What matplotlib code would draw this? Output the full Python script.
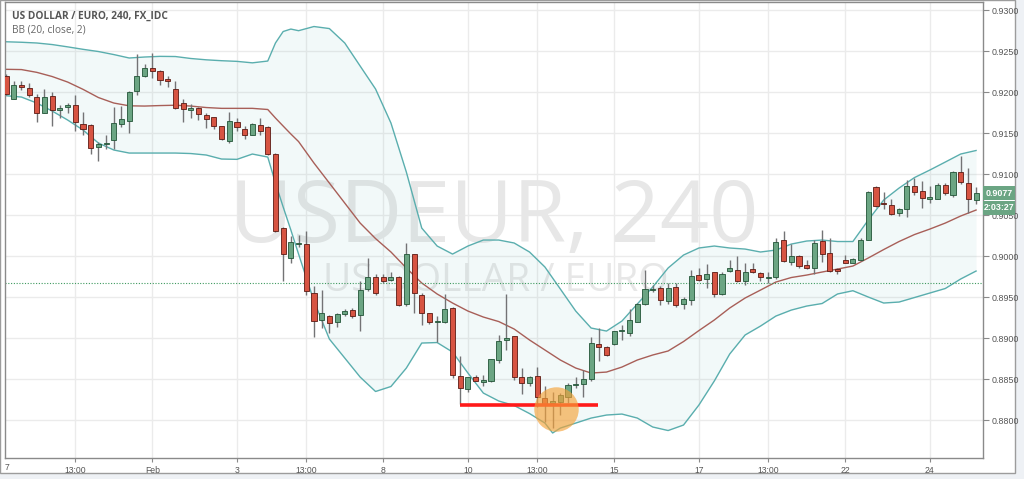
import matplotlib
matplotlib.use("Agg")
import matplotlib.pyplot as plt
from matplotlib.patches import Rectangle

# 4h candles, USD/EUR
opens = [.9219, .9192, .9209, .9205, .9194, .9175, .9195, .9178, .9182, .9184,
         .9161, .9160, .9133, .9137, .9141, .9161, .9165, .9201, .9220, .9229,
         .9226, .9216, .9204, .9187, .9178, .9181, .9172, .9169, .9158, .9140,
         .9164, .9155, .9148, .9160, .9157, .9124, .9034, .8998, .9015, .9015,
         .8955, .8922, .8927, .8919, .8929, .8934, .8928, .8960, .8975, .8974,
         .8971, .8975, .8941, .9002, .8953, .8930, .8920, .8920, .8937, .8854,
         .8838, .8853, .8846, .8847, .8873, .8897, .8902, .8852, .8845, .8854,
         .8827, .8821, .8822, .8828, .8843, .8844, .8850, .8893, .8889, .8893,
         .8908, .8906, .8920, .8942, .8958, .8961, .8945, .8962, .8942, .8946,
         .8977, .8972, .8980, .8954, .8982, .8983, .8970, .8984, .8979, .8973,
         .8974, .9019, .8993, .9000, .8989, .8985, .9018, .9004, .8984, .8995,
         .8992, .8995, .9020, .9084, .9065, .9062, .9052, .9057, .9086, .9079,
         .9070, .9070, .9087, .9075, .9102, .9089, .9068]
highs = [.9222, .9213, .9213, .9211, .9198, .9204, .9200, .9184, .9187, .9196,
         .9176, .9161, .9139, .9148, .9182, .9183, .9201, .9246, .9234, .9248,
         .9227, .9220, .9213, .9192, .9185, .9182, .9175, .9170, .9159, .9176,
         .9168, .9158, .9162, .9168, .9158, .9126, .9035, .9024, .9026, .9030,
         .8963, .8958, .8928, .8930, .8935, .8937, .8969, .8998, .8978, .8978,
         .8981, .8976, .9016, .9003, .8955, .8931, .8927, .8954, .8938, .8878,
         .8853, .8855, .8855, .8875, .8904, .8954, .8903, .8864, .8854, .8865,
         .8841, .8834, .8833, .8845, .8853, .8861, .8901, .8912, .8890, .8909,
         .8916, .8935, .8943, .8983, .8965, .8963, .8967, .8967, .8950, .8983,
         .8985, .8990, .8981, .8981, .8995, .9000, .8991, .8991, .8981, .8981,
         .9022, .9030, .9015, .9001, .8995, .9020, .9032, .9022, .8985, .9001,
         .8998, .9022, .9079, .9085, .9078, .9069, .9058, .9093, .9095, .9092,
         .9085, .9089, .9089, .9104, .9122, .9107, .9084]
lows = [.9196, .9191, .9203, .9194, .9164, .9174, .9158, .9168, .9174, .9152,
        .9148, .9125, .9116, .9131, .9130, .9157, .9150, .9196, .9218, .9217,
        .9209, .9206, .9179, .9163, .9168, .9166, .9156, .9155, .9142, .9138,
        .9152, .9143, .9147, .9147, .9123, .9029, .8970, .8991, .9011, .8952,
        .8901, .8912, .8906, .8913, .8927, .8925, .8908, .8957, .8953, .8967,
        .8969, .8939, .8939, .8930, .8916, .8917, .8895, .8918, .8851, .8819,
        .8834, .8847, .8841, .8846, .8870, .8886, .8849, .8832, .8841, .8816,
        .8798, .8790, .8806, .8821, .8839, .8828, .8848, .8872, .8878, .8892,
        .8898, .8903, .8919, .8940, .8956, .8940, .8942, .8938, .8935, .8940,
        .8969, .8961, .8950, .8952, .8980, .8968, .8965, .8979, .8970, .8967,
        .8972, .8993, .8989, .8985, .8984, .8978, .8993, .8981, .8978, .8991,
        .8991, .8994, .9019, .9060, .9057, .9050, .9049, .9047, .9074, .9059,
        .9065, .9069, .9075, .9072, .9088, .9053, .9063]
closes = [.9198, .9209, .9206, .9196, .9175, .9194, .9178, .9181, .9184, .9163,
          .9155, .9132, .9137, .9138, .9162, .9167, .9200, .9220, .9229, .9226,
          .9215, .9213, .9180, .9179, .9181, .9173, .9167, .9159, .9143, .9165,
          .9157, .9147, .9161, .9153, .9124, .9031, .9002, .9017, .9016, .8957,
          .8921, .8931, .8918, .8929, .8933, .8927, .8958, .8975, .8955, .8970,
          .8975, .8940, .9002, .8955, .8930, .8919, .8921, .8936, .8855, .8839,
          .8852, .8848, .8849, .8874, .8896, .8900, .8852, .8845, .8853, .8828,
          .8820, .8823, .8830, .8843, .8844, .8850, .8894, .8889, .8879, .8908,
          .8910, .8922, .8942, .8960, .8960, .8946, .8961, .8940, .8948, .8976,
          .8971, .8978, .8954, .8978, .8985, .8970, .8981, .8980, .8974, .8975,
          .9017, .8994, .9000, .8988, .8986, .9016, .9002, .8982, .8982, .8992,
          .8996, .9020, .9078, .9061, .9063, .9051, .9057, .9085, .9078, .9071,
          .9072, .9087, .9077, .9102, .9090, .9070, .9077]

# Bollinger bands (20, close, 2)
bb_idx = [0, 2, 4, 6, 8, 10, 12, 14, 16, 18, 20, 22, 24, 26, 28, 30, 32, 34, 35, 36,
          37, 38, 40, 42, 44, 46, 48, 50, 52, 54, 56, 58, 60, 62, 64, 66, 68, 70, 71, 72,
          74, 76, 78, 80, 82, 84, 86, 88, 90, 92, 94, 96, 98, 100, 102, 104, 106, 108, 110, 112,
          114, 116, 118, 120, 122, 124, 126]
bb_upper = [.92613, .92607, .92598, .92579, .92551, .92521, .92494, .92457, .92415, .92427,
            .92435, .92433, .92409, .92393, .92382, .92374, .92356, .92378, .92598, .92738,
            .92768, .92748, .92799, .92774, .92598, .92317, .92037, .91622, .91024, .90341,
            .90122, .90024, .90122, .90195, .90195, .90159, .90049, .89866, .89732, .89598,
            .89329, .89122, .89085, .89207, .89415, .89622, .89854, .90012, .90098, .90122,
            .90098, .90085, .90049, .90073, .90146, .90183, .90195, .90177, .90177, .90439,
            .90683, .90829, .90957, .91049, .91146, .91244, .91287]
bb_mid = [.92277, .92274, .92240, .92189, .92122, .92033, .91933, .91866, .91832, .91829,
          .91835, .91839, .91829, .91811, .91801, .91801, .91801, .91787, .91683, .91585,
          .91488, .91396, .91134, .90890, .90646, .90402, .90213, .90049, .89854, .89671,
          .89537, .89427, .89329, .89256, .89201, .89110, .88976, .88854, .88793, .88732,
          .88634, .88573, .88585, .88646, .88732, .88793, .88842, .88957, .89091, .89220,
          .89366, .89488, .89585, .89683, .89738, .89768, .89805, .89841, .89878, .89976,
          .90079, .90177, .90262, .90329, .90402, .90488, .90561]
bb_lower = [.91955, .91939, .91866, .91768, .91659, .91537, .91378, .91293, .91256, .91256,
            .91256, .91256, .91250, .91232, .91183, .91179, .91244, .91207, .90890, .90598,
            .90317, .90024, .89451, .88988, .88756, .88524, .88348, .88409, .88634, .88939,
            .88945, .88829, .88573, .88329, .88232, .88177, .88079, .87963, .87842, .87902,
            .87963, .88024, .88061, .88073, .88024, .87915, .87872, .87939, .88183, .88476,
            .88805, .89037, .89146, .89268, .89341, .89390, .89421, .89537, .89577, .89500,
            .89427, .89439, .89494, .89549, .89604, .89720, .89817]

xtick_pos = [9, 19, 30, 39, 49, 60, 69, 79, 90, 99, 109, 120]
xtick_labels = ["13:00", "Feb", "3", "13:00", "8", "10", "13:00", "15", "17", "13:00", "22", "24"]
price_ticks = [0.8800, 0.8850, 0.8900, 0.8950, 0.9000, 0.9050, 0.9100, 0.9150, 0.9200, 0.9250, 0.9300]

prev_close = 0.8967
last_price = "0.9077"
countdown = "2:03:27"
support_level = 0.8818
support_start, support_end = 59.0, 76.9
circle_x, circle_y = 71.4, 0.8813

UP, DOWN = "#6ba583", "#d75442"
UP_EDGE, DOWN_EDGE = "#225437", "#5b1a13"
WICK = "#737375"

fig = plt.figure(figsize=(10.24, 4.79), dpi=100, facecolor="#eef1f5")
fig.patches.append(Rectangle((0, 6 / 479), 1015 / 1024, 1 - 6 / 479, transform=fig.transFigure,
                             facecolor="white", edgecolor="#9c9c9c", lw=1, zorder=-10))
ax = fig.add_axes([5 / 1024, 21 / 479, 978 / 1024, 456 / 479])
ax.set_facecolor("white")

# grid
for p in price_ticks:
    ax.axhline(p, color="#ebebeb", lw=1, zorder=0)
for xp in xtick_pos:
    ax.axvline(xp, color="#ebebeb", lw=1, zorder=0)

# watermark
ax.text(494 / 1024, (479 - 242) / 479, "USDEUR, 240", transform=fig.transFigure, ha="center",
        va="baseline", fontsize=62, color="#e7e7e7", family="Open Sans", zorder=0.5)
ax.text(496 / 1024, (479 - 291) / 479, "US DOLLAR / EURO", transform=fig.transFigure, ha="center",
        va="baseline", fontsize=28, color="#e7e7e7", family="Open Sans", zorder=0.5)

# bollinger bands
ax.fill_between(bb_idx, bb_lower, bb_upper, color="#5fb3b3", alpha=0.08, lw=0, zorder=1)
ax.plot(bb_idx, bb_upper, color="#5aaeae", lw=1, zorder=2)
ax.plot(bb_idx, bb_lower, color="#5aaeae", lw=1, zorder=2)
ax.plot(bb_idx, bb_mid, color="#a85f58", lw=1, zorder=2)

ax.axhline(prev_close, color="#3f9a5f", lw=0.8, ls=(0, (1, 1.5)), zorder=2)

# candles
for i in range(len(opens)):
    o, h, l, c = opens[i], highs[i], lows[i], closes[i]
    up = c >= o
    ax.vlines(i, l, h, color=WICK, lw=1, zorder=3)
    ax.bar(i, max(abs(c - o), 0.00004), bottom=min(o, c), width=0.66,
           color=UP if up else DOWN, edgecolor=UP_EDGE if up else DOWN_EDGE, lw=0.6, zorder=4)

# annotations
ax.plot([support_start, support_end], [support_level, support_level], color="#ff1a1a", lw=2.6,
        solid_capstyle="butt", zorder=5)
ax.plot([circle_x], [circle_y], "o", ms=32, color="#f5a33a", alpha=0.65, mec="none", zorder=6)

ax.set_xlim(-0.13, 126.9)
ax.set_ylim(0.87537, 0.93098)

ax.yaxis.tick_right()
ax.set_yticks(price_ticks)
ax.set_yticklabels(["%.4f" % p for p in price_ticks])
ax.set_xticks(xtick_pos)
ax.set_xticklabels(xtick_labels)
ax.tick_params(axis="y", length=4, width=0.8, color="#8a8a8a", labelsize=6.4, labelcolor="#555555", pad=2)
ax.tick_params(axis="x", length=3, width=0.8, color="#8a8a8a", labelsize=6.2, labelcolor="#555555", pad=3)
for lbl in ax.get_xticklabels() + ax.get_yticklabels():
    lbl.set_family("Liberation Sans")
ax.text(7 / 1024, (479 - 467) / 479, "7", transform=fig.transFigure, ha="center", va="center",
        fontsize=6.2, color="#555555", family="Liberation Sans")
for s in ax.spines.values():
    s.set_color("#8a8a8a")
    s.set_linewidth(1)

# legend texts
fig.text(12 / 1024, (479 - 16) / 479, "US DOLLAR / EURO, 240, FX_IDC", fontsize=7.3, fontweight="bold",
         color="#555555", family="Open Sans", va="center")
fig.text(12 / 1024, (479 - 30) / 479, "BB (20, close, 2)", fontsize=7.3, color="#666666",
         family="Open Sans", va="center")

# last price boxes
for y0, txt in [(186, last_price), (201, countdown)]:
    fig.patches.append(Rectangle((983 / 1024, (479 - y0 - 14) / 479), 32 / 1024, 14 / 479,
                                 transform=fig.transFigure, facecolor=UP, edgecolor="none", zorder=5))
    fig.text(999 / 1024, (479 - y0 - 7) / 479, txt, ha="center", va="center", fontsize=6.4,
             color="white", fontweight="bold", family="Liberation Sans", zorder=6)

fig.savefig("out.png", dpi=100, facecolor=fig.get_facecolor())
